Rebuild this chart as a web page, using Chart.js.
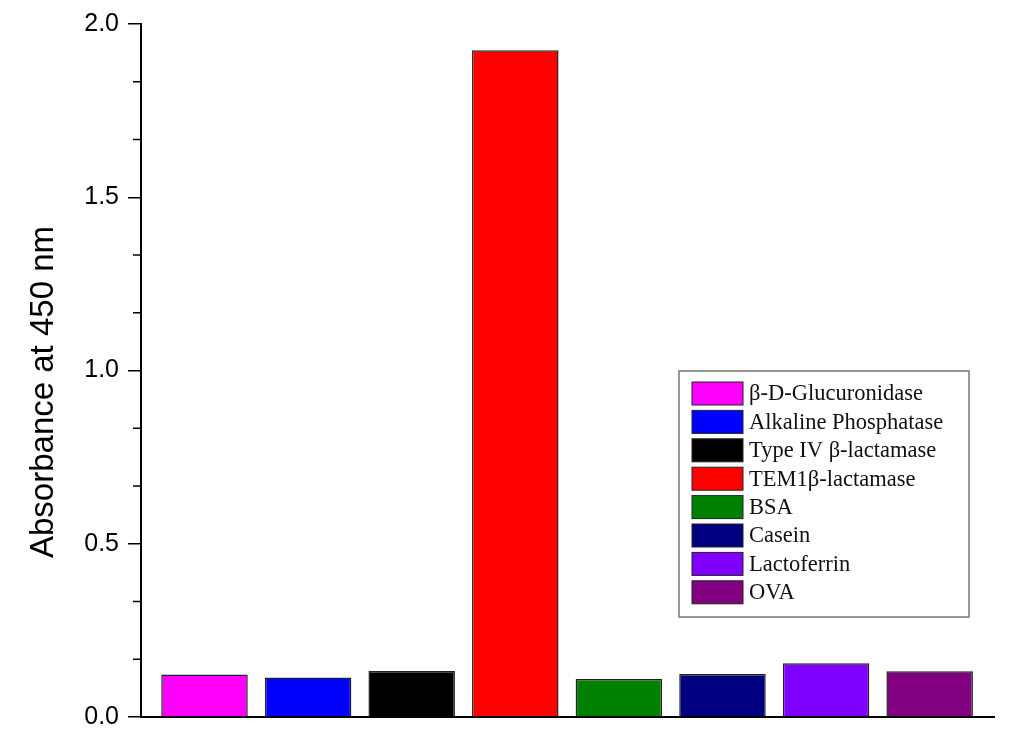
<!DOCTYPE html>
<html>
<head>
<meta charset="utf-8">
<script src="https://cdn.jsdelivr.net/npm/chart.js@4"></script>
<style>
  html, body { margin: 0; background: #fff; }
  #wrap { width: 1024px; height: 744px; }
</style>
</head>
<body>
<div id="wrap"><canvas id="absorbanceChart"></canvas></div>
<script>
const categories = ['β-D-Glucuronidase', 'Alkaline Phosphatase', 'Type IV β-lactamase', 'TEM1β-lactamase',
  'BSA', 'Casein', 'Lactoferrin', 'OVA'];
const absorbance = [0.123, 0.114, 0.133, 1.924, 0.110, 0.124, 0.155, 0.132];
const barColors = ['#ff00ff', '#0000ff', '#000000', '#ff0000', '#008000', '#000080', '#8000ff', '#800080'];
const yTickStep = 0.5;
const yMinorStep = 0.5 / 3;
const yTitle = 'Absorbance at 450 nm';

// short minor ticks between the labelled ones, plus the y title
const yAxisExtras = {
  id: 'yAxisExtras',
  afterDraw(chart) {
    const { ctx } = chart;
    const y = chart.scales.y;
    ctx.save();
    ctx.strokeStyle = '#000';
    ctx.lineWidth = 1.5;
    for (let k = 1; k * yMinorStep < y.max; k++) {
      if (k % 3 === 0) continue;
      const py = y.getPixelForValue(k * yMinorStep);
      ctx.beginPath();
      ctx.moveTo(y.right - 8, py);
      ctx.lineTo(y.right, py);
      ctx.stroke();
    }
    ctx.translate(44, 392);
    ctx.rotate(-Math.PI / 2);
    ctx.font = '33px "Liberation Sans", Arial, sans-serif';
    ctx.fillStyle = '#000';
    ctx.textAlign = 'center';
    ctx.textBaseline = 'middle';
    ctx.fillText(yTitle, 0, 0);
    ctx.restore();
  }
};

// boxed legend inside the plot, one row per bar
const boxLegend = {
  id: 'boxLegend',
  afterDraw(chart) {
    const { ctx } = chart;
    const left = 679, top = 371, width = 290, height = 246;
    ctx.save();
    ctx.fillStyle = '#fff';
    ctx.fillRect(left, top, width, height);
    ctx.strokeStyle = '#777';
    ctx.lineWidth = 1.5;
    ctx.strokeRect(left, top, width, height);
    ctx.font = '22.5px "Liberation Serif", "Times New Roman", serif';
    ctx.textBaseline = 'middle';
    categories.forEach((name, i) => {
      const rowTop = 382 + i * 28.4;
      ctx.fillStyle = barColors[i];
      ctx.fillRect(692, rowTop, 51, 23);
      ctx.strokeStyle = '#222';
      ctx.lineWidth = 1;
      ctx.strokeRect(692, rowTop, 51, 23);
      ctx.fillStyle = '#111';
      ctx.fillText(name, 749, rowTop + 12.5);
    });
    ctx.restore();
  }
};

new Chart(document.getElementById('absorbanceChart'), {
  type: 'bar',
  data: {
    labels: categories,
    datasets: [{
      data: absorbance.map((v, i) => ({ x: i + 1, y: v })),
      backgroundColor: barColors,
      borderColor: '#222',
      borderWidth: 1.5,
      barPercentage: 0.835,
      categoryPercentage: 1
    }]
  },
  options: {
    responsive: true,
    maintainAspectRatio: false,
    animation: false,
    layout: { padding: { top: 22, right: 30, bottom: 0, left: 0 } },
    plugins: {
      legend: { display: false },
      tooltip: { enabled: false }
    },
    scales: {
      x: {
        type: 'linear',
        offset: false,
        min: 0.387,
        max: 8.621,
        afterBuildTicks: (scale) => {
          scale.ticks = categories.map((c, i) => ({ value: i + 1 }));
        },
        afterFit: (scale) => { scale.height = 27; },
        grid: { display: false, offset: false },
        ticks: { display: false },
        border: { color: '#000', width: 2 }
      },
      y: {
        min: 0,
        max: 2,
        afterFit: (scale) => { scale.width = 141; },
        ticks: {
          stepSize: yTickStep,
          callback: (v) => v.toFixed(1),
          color: '#000',
          padding: 9,
          font: { family: '"Liberation Sans", Arial, sans-serif', size: 25 }
        },
        grid: { drawOnChartArea: false, tickLength: 13, color: '#000', lineWidth: 1.5 },
        border: { color: '#000', width: 2 }
      }
    }
  },
  plugins: [yAxisExtras, boxLegend]
});
</script>
</body>
</html>
